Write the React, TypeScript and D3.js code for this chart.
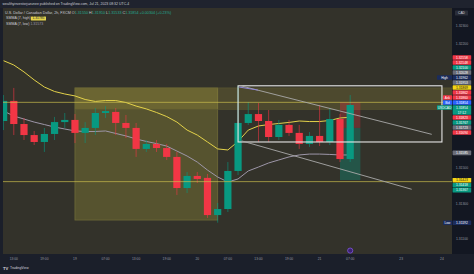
import React from "react";
import * as d3 from "d3";

// ---- data ----
const opens = [1.31764,1.31877,1.31747,1.31685,1.31646,1.31691,1.31758,1.31770,1.31697,1.31725,1.31809,1.31815,1.31753,1.31725,1.31607,1.31635,1.31612,1.31562,1.31387,1.31455,1.31444,1.31235,1.31269,1.31483,1.31753,1.31803,1.31764,1.31674,1.31742,1.31697,1.31635,1.31680,1.31646,1.31775,1.31550];
const highs = [1.31910,1.31950,1.31781,1.31708,1.31725,1.31787,1.31809,1.31803,1.31758,1.31837,1.31848,1.31837,1.31798,1.31753,1.31657,1.31657,1.31635,1.31590,1.31477,1.31477,1.31466,1.31303,1.31533,1.31962,1.31871,1.31865,1.31826,1.31770,1.31770,1.31742,1.31702,1.31854,1.31837,1.31803,1.31910];
const lows = [1.31713,1.31685,1.31657,1.31629,1.31590,1.31657,1.31725,1.31640,1.31640,1.31685,1.31781,1.31685,1.31668,1.31562,1.31590,1.31590,1.31545,1.31348,1.31359,1.31415,1.31219,1.31192,1.31252,1.31460,1.31742,1.31646,1.31646,1.31657,1.31680,1.31607,1.31618,1.31623,1.31629,1.31533,1.31533];
const closes = [1.31877,1.31747,1.31685,1.31646,1.31691,1.31758,1.31770,1.31697,1.31725,1.31809,1.31820,1.31753,1.31725,1.31607,1.31635,1.31612,1.31562,1.31387,1.31455,1.31438,1.31235,1.31269,1.31483,1.31753,1.31803,1.31764,1.31674,1.31742,1.31697,1.31635,1.31680,1.31646,1.31775,1.31550,1.31854];
const smmaHigh = [1.32103,1.32079,1.32040,1.31995,1.31955,1.31930,1.31916,1.31905,1.31885,1.31874,1.31879,1.31879,1.31868,1.31848,1.31832,1.31812,1.31789,1.31758,1.31713,1.31685,1.31646,1.31607,1.31601,1.31649,1.31713,1.31736,1.31744,1.31750,1.31756,1.31764,1.31761,1.31761,1.31767,1.31781,1.31785];
const smmaLow = [1.31820,1.31792,1.31775,1.31758,1.31744,1.31730,1.31719,1.31708,1.31705,1.31705,1.31708,1.31694,1.31680,1.31663,1.31649,1.31637,1.31623,1.31595,1.31567,1.31533,1.31488,1.31449,1.31421,1.31438,1.31483,1.31505,1.31528,1.31545,1.31562,1.31573,1.31578,1.31578,1.31576,1.31573,1.31573];

const timeTickIndex = [1, 4, 7, 10, 13, 16, 19, 22, 25, 28, 31, 34, 39, 43];
const timeTickLabels = ["13:00","19:00","19","07:00","13:00","19:00","20","07:00","13:00","19:00","21","07:00","23","24"];
const priceTicks = [1.323, 1.322, 1.315, 1.313, 1.311];
const hLevels = [1.31869, 1.31423];

// price tags on the right scale
const tagPrices = [1.32158,1.32148,1.32100,1.32028,1.31962,1.31953,1.31869,1.31862,1.31860,1.31854,1.31854,1.31823,1.31767,1.31723,1.31694,1.31585,1.31423,1.31418,1.31367,1.31192];
const tagTexts = ["1.32158","1.32148","1.32100","1.32028","1.31962","1.31953","1.31869","1.31862","1.31860","1.31854","1.31854|17:12","1.31823","1.31767","1.31723","1.31694","1.31585","1.31423","1.31418","1.31367","1.31192"];
const tagKinds = ["red","red","teal","gray","navy","gray","yellow","red","red","blue","teal","red","teal","gray","red","gray","yellow","teal","teal","navy"];
const tagSides = ["","","","","High","","","","Ask","Bid","USDCAD","","","","","","","","","Low"];
const tagGroups = [0,0,0,0,0,0,0,0,0,0,0,0,0,0,0,1,2,2,2,3];

// drawings
const boxIdx = [7, 21];
const boxPrices = [1.3195, 1.31207];
const bandIdx = [7, 44];
const bandPrices = [1.3195, 1.3183];
const rangeIdx = [23, 43];
const rangePrices = [1.31962, 1.31646];
const trendUpper = { i: [23.19, 42.0], p: [1.31963, 1.31689] };
const trendLower = { i: [23.36, 40.03], p: [1.31652, 1.3138] };
const trendShort = { i: [23.1, 24.95], p: [1.31955, 1.31938] };
const posIdx = [33, 35];
const posPrices = { stop: 1.31871, entry: 1.31725, target: 1.31432 };

const COLORS: Record<string, string> = {
  red: "#f23645",
  teal: "#089981",
  gray: "#6a6d78",
  navy: "#1b2c5c",
  blue: "#2962ff",
  yellow: "#f5d516",
};

const FONT = "'Liberation Sans', Arial, sans-serif";

export default function App() {
  const W = 474, H = 274;
  const paneL = 3, paneR = 452, paneT = 8, paneB = 254;
  const step = 10.194;
  const x = d3.scaleLinear().domain([0, 44]).range([3.6, 3.6 + 44 * step]);
  const y = d3.scaleLinear().domain([1.311, 1.323]).range([239.06, 25.7]);
  const bw = 7.2;
  const up = "#089981", down = "#f23645";

  const lineGen = d3.line<number>().x((_, i) => x(i)).y((d) => y(d));

  // tag layout: each group centered on mean of natural positions
  const tagH = 5;
  const tagItems = tagPrices.map((p, k) => ({
    p, k, ny: y(p), lines: tagTexts[k].split("|"),
  }));
  const groups = d3.groups(tagItems, (d) => tagGroups[d.k]);
  const placed: { k: number; top: number; lines: string[] }[] = [];
  groups.forEach(([, items]) => {
    const total = d3.sum(items, (d) => d.lines.length * tagH);
    const center = d3.mean(items, (d) => d.ny) as number;
    let top = center - total / 2;
    items.forEach((it) => {
      placed.push({ k: it.k, top, lines: it.lines });
      top += it.lines.length * tagH;
    });
  });

  return (
    <svg width={W} height={H} style={{ position: "fixed", left: 0, top: 0 }} fontFamily={FONT}>
      <defs>
        <clipPath id="pane">
          <rect x={paneL} y={paneT} width={paneR - paneL} height={paneB - paneT} />
        </clipPath>
      </defs>
      <rect x={0} y={0} width={W} height={H} fill="#1b1f2a" />
      {/* header */}
      <rect x={0} y={0} width={W} height={paneT} fill="#1f232e" />
      <text x={2.5} y={5.4} fontSize={3.5} fill="#c9ccd4">
        wealthyinvestorjuzunee published on TradingView.com, Jul 21, 2023 08:32 UTC-4
      </text>
      {/* pane */}
      <rect x={paneL} y={paneT} width={paneR - paneL} height={paneB - paneT} fill="#33322a" />
      <g clipPath="url(#pane)">
        {/* box */}
        <rect x={x(boxIdx[0])} y={y(boxPrices[0])} width={x(boxIdx[1]) - x(boxIdx[0])}
          height={y(boxPrices[1]) - y(boxPrices[0])} fill="rgba(215,200,70,0.22)" stroke="#6f6a38" strokeWidth={0.8} />
        {/* band */}
        <rect x={x(bandIdx[0])} y={y(bandPrices[0])} width={x(bandIdx[1]) - x(bandIdx[0])}
          height={y(bandPrices[1]) - y(bandPrices[0])} fill="rgba(215,200,70,0.16)" stroke="#5e5a33" strokeWidth={0.6} />
        {/* position tool */}
        <rect x={x(posIdx[0])} y={y(posPrices.stop)} width={x(posIdx[1]) - x(posIdx[0])}
          height={y(posPrices.entry) - y(posPrices.stop)} fill="rgba(242,54,69,0.28)" />
        <rect x={x(posIdx[0])} y={y(posPrices.entry)} width={x(posIdx[1]) - x(posIdx[0])}
          height={y(posPrices.target) - y(posPrices.entry)} fill="rgba(8,153,129,0.35)" />
        {/* SMMA lines */}
        <path d={lineGen(smmaHigh) || ""} fill="none" stroke="#e3d24a" strokeWidth={1} />
        <path d={lineGen(smmaLow) || ""} fill="none" stroke="#9d96a8" strokeWidth={1} />
        {/* candles */}
        {opens.map((o, i) => {
          const c = closes[i];
          const col = c >= o ? up : down;
          const top = y(Math.max(o, c));
          const h = Math.max(0.8, Math.abs(y(o) - y(c)));
          return (
            <g key={i}>
              <line x1={x(i)} x2={x(i)} y1={y(highs[i])} y2={y(lows[i])} stroke={col} strokeWidth={0.8} opacity={0.75} />
              <rect x={x(i) - bw / 2} y={top} width={bw} height={h} fill={col} />
            </g>
          );
        })}
        {/* horizontal levels */}
        {hLevels.map((p, k) => (
          <line key={k} x1={paneL} x2={paneR} y1={y(p)} y2={y(p)} stroke="#cdbf4e" strokeWidth={0.8} opacity={0.85} />
        ))}
        {/* range rectangle */}
        <rect x={x(rangeIdx[0])} y={y(rangePrices[0])} width={x(rangeIdx[1]) - x(rangeIdx[0])}
          height={y(rangePrices[1]) - y(rangePrices[0])} fill="none" stroke="#e6e6e6" strokeWidth={1.1} />
        {/* trend lines */}
        <line x1={x(trendUpper.i[0])} y1={y(trendUpper.p[0])} x2={x(trendUpper.i[1])} y2={y(trendUpper.p[1])} stroke="#a9a9a9" strokeWidth={0.9} />
        <line x1={x(trendLower.i[0])} y1={y(trendLower.p[0])} x2={x(trendLower.i[1])} y2={y(trendLower.p[1])} stroke="#a9a9a9" strokeWidth={0.9} />
        <line x1={x(trendShort.i[0])} y1={y(trendShort.p[0])} x2={x(trendShort.i[1])} y2={y(trendShort.p[1])} stroke="#8f86d6" strokeWidth={1} />
        {/* event marker */}
        <circle cx={x(34)} cy={250.6} r={2.6} fill="#3b2370" stroke="#8a5cf0" strokeWidth={0.7} />
      </g>
      {/* legend */}
      <text x={5} y={14} fontSize={3.7} fill="#c9ccd4">
        U.S. Dollar / Canadian Dollar, 2h, FXCM{"  "}O<tspan fill="#22ab94">1.31550</tspan> H<tspan fill="#22ab94">1.31910</tspan> L<tspan fill="#22ab94">1.31533</tspan> C<tspan fill="#22ab94">1.31854</tspan> <tspan fill="#22ab94">+0.00304 (+0.23%)</tspan>
      </text>
      <text x={6} y={19.4} fontSize={3.6} fill="#c9ccd4">SMMA (7, high)</text>
      <rect x={31} y={16.4} width={15} height={4} fill="#e3d24a" rx={0.5} />
      <text x={38.5} y={19.3} fontSize={3.3} fill="#1b1f2a" textAnchor="middle">1.31785</text>
      <text x={6} y={25} fontSize={3.6} fill="#c9ccd4">SMMA (7, low) <tspan fill="#9d96a8">1.31573</tspan></text>
      {/* right price axis */}
      <rect x={paneR} y={paneT} width={W - paneR} height={paneB - paneT} fill="#131722" />
      <rect x={455} y={10.5} width={13} height={5} rx={0.6} fill="#2a2e39" />
      <text x={461.5} y={14.1} fontSize={3.3} fill="#d1d4dc" textAnchor="middle">CAD</text>
      {priceTicks.map((p, k) => (
        <text key={k} x={462} y={y(p) + 1.2} fontSize={3.4} fill="#9598a1" textAnchor="middle">{p.toFixed(5)}</text>
      ))}
      {placed.map(({ k, top, lines }) => {
        const kind = tagKinds[k];
        const bg = COLORS[kind];
        const fg = kind === "yellow" ? "#131722" : "#ffffff";
        const hh = lines.length * tagH - 0.4;
        const side = tagSides[k];
        const sideW = side.length > 3 ? 15 : 9;
        return (
          <g key={k}>
            <rect x={452.6} y={top + 0.2} width={18.6} height={hh} rx={0.6} fill={bg} />
            {lines.map((t, j) => (
              <text key={j} x={461.9} y={top + j * tagH + 3.6} fontSize={3.3} fill={fg} textAnchor="middle">{t}</text>
            ))}
            {side && (
              <g>
                <rect x={452 - sideW} y={top + 0.2} width={sideW} height={tagH - 0.4} rx={0.6} fill={bg} />
                <text x={452 - sideW / 2} y={top + 3.6} fontSize={3.2} fill={fg} textAnchor="middle">{side}</text>
              </g>
            )}
          </g>
        );
      })}
      {/* time axis */}
      <rect x={0} y={paneB} width={W} height={H - paneB} fill="#1b1f2a" />
      {timeTickIndex.map((i, k) => (
        <text key={k} x={x(i)} y={259.6} fontSize={3.3} fill="#9598a1" textAnchor="middle">{timeTickLabels[k]}</text>
      ))}
      {/* footer logo */}
      <text x={3} y={269.6} fontSize={4.2} fontWeight="bold" fill="#d1d4dc">TV</text>
      <text x={10} y={269.4} fontSize={3.4} fill="#d1d4dc">TradingView</text>
    </svg>
  );
}
